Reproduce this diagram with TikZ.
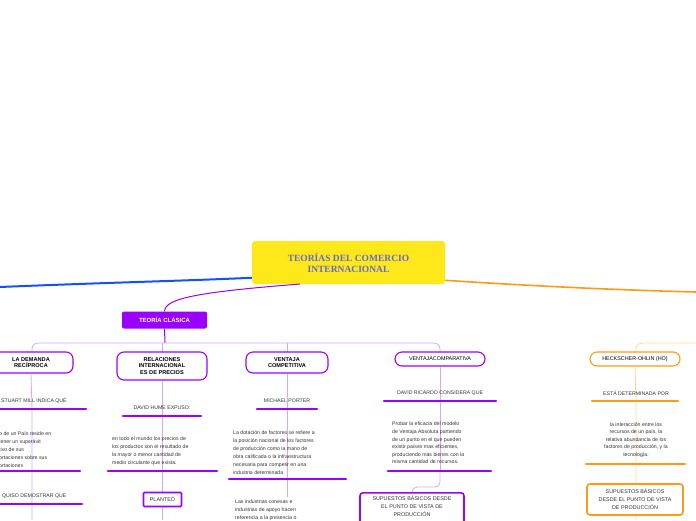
\documentclass[tikz,border=0pt]{standalone}
\usepackage{fontspec}
\setmainfont{Liberation Sans}
\newfontfamily\titlefont{Liberation Serif}
\begin{document}
\begin{tikzpicture}[x=1pt,y=-1pt,
  pu/.style={draw=purple!0!black, },
  ul/.style={line width=2.2pt,draw=vio,line cap=round},
  ulo/.style={line width=2.2pt,draw=org,line cap=round},
  thin/.style={draw=lvio,line width=0.8pt},
  thino/.style={draw=lorg,line width=0.8pt},
  lbl/.style={font=\fontsize{5.2}{6}\selectfont,text=black!80,inner sep=0},
  par/.style={font=\fontsize{5.2}{8}\selectfont,text=black!80,inner sep=0,align=left},
  box/.style={draw=vio,line width=1.1pt,rounded corners=7pt,fill=white,font=\fontsize{5.6}{6.6}\selectfont\bfseries,align=center,inner sep=0},
]
\definecolor{vio}{HTML}{9900FF}
\definecolor{lvio}{HTML}{D4A6FF}
\definecolor{org}{HTML}{FF9A14}
\definecolor{lorg}{HTML}{FFD699}
\definecolor{ttl}{HTML}{FFE81A}
\definecolor{blu}{HTML}{1450FF}
\useasboundingbox (0,0) rectangle (696,520);
\clip (0,0) rectangle (696,520);
% main branches
\coordinate (bl) at (0,287);
\coordinate (or) at (696,292);
\draw[blu,line width=2pt] (bl) .. controls (120,282) and (220,280) .. (285,276);
\draw[org,line width=1.6pt] (440,280) .. controls (550,287) and (620,290) .. (or);
\node[fill=ttl,rounded corners=3pt,minimum width=193pt,minimum height=43pt,inner sep=0] (title) at (348.5,262.5) {};
\node[font=\titlefont\bfseries\fontsize{9.5}{11}\selectfont,text=black!15,align=center] at (349.2,263.2) {TEORÍAS DEL COMERCIO\\INTERNACIONAL};
\node[font=\titlefont\bfseries\fontsize{9.5}{11}\selectfont,text=black!55,align=center] at (348.5,262.5) {TEORÍAS DEL COMERCIO\\INTERNACIONAL};
\node[fill=vio,rounded corners=2pt,minimum width=85pt,minimum height=17pt,inner sep=0,text=white,font=\fontsize{6}{7}\selectfont\bfseries] (tc) at (164.5,320) {TEORÍA CLÁSICA};
\draw[vio,line width=1pt] (300,284) .. controls (200,292) and (165,298) .. (tc.north);
\draw[vio,line width=1pt] (tc.south) -- (165,343);
% horizontal distribution
\draw[thin,rounded corners=6pt] (32,352) -- (32,343) -- (440,343) -- (440,352);
\draw[thin,rounded corners=6pt] (162,343) -- (162,352);
\draw[thin,rounded corners=6pt] (287,352) -- (287,343);
\draw[thino,rounded corners=6pt] (636,352) -- (636,343) -- (696,343);
% boxes
\node[box,minimum width=84pt,minimum height=21pt] (c1) at (31,362.5) {LA DEMANDA\\RECÍPROCA};
\node[box,minimum width=90pt,minimum height=28pt] (c2) at (162,366) {RELACIONES\\INTERNACIONAL\\ES DE PRECIOS};
\node[box,minimum width=82pt,minimum height=21pt] (c3) at (287,362.5) {VENTAJA\\COMPETITIVA};
\node[box,minimum width=90pt,minimum height=14pt,font=\fontsize{5.4}{6}\selectfont] (c4) at (440,359) {VENTAJACOMPARATIVA};
\node[box,draw=org,minimum width=90pt,minimum height=14pt,font=\fontsize{5.4}{6}\selectfont] (c5) at (635,359) {HECKSCHER-OHLIN (HO)};
% column 1
\coordinate (u1a) at (0,409); \coordinate (u1b) at (86,409);
\coordinate (u2a) at (0,471); \coordinate (u2b) at (80,471);
\coordinate (u3a) at (0,504); \coordinate (u3b) at (82,504);
\draw[thin] (c1.south) -- (32,409) (32,409) -- (32,471) (32,471) -- (32,504) (32,504)--(32,520);
\draw[ul] (u1a) -- (u1b); \draw[ul] (u2a) -- (u2b); \draw[ul] (u3a) -- (u3b);
\node[lbl,anchor=west] (t11) at (1,401) {STUART MILL INDICA QUÉ};
\node[par,anchor=north west] (t12) at (-1,431) {o de un País reside en\\tener un superávit\\tivo de sus\\ortaciones sobre sus\\ortaciones};
\node[lbl,anchor=west] (t13) at (2,496.5) {QUISO DEMOSTRAR QUE};
% column 2
\draw[thin] (c2.south) -- (162,416) (162,416) -- (162,471) (162,471) -- (162,492) (162,507) -- (162,520);
\node[lbl] (t21) at (162,408) {DAVID HUME EXPUSO:};
\draw[ul] (123,416) -- (201,416);
\node[par,anchor=north west] (t22) at (112,437) {en todo el mundo los precios de\\los productos son el resultado de\\la mayor o menor cantidad de\\medio circulante que exista.};
\draw[ul] (108,471) -- (217,471);
\node[draw=vio,line width=1.6pt,rounded corners=1pt,fill=white,minimum width=38pt,minimum height=14pt,inner sep=0,font=\fontsize{5.4}{6}\selectfont,text=black!80] (pl) at (162.5,499.5) {PLANTEÓ};
% column 3
\draw[thin] (c3.south) -- (287,409) (287,409) -- (287,479) (287,479) -- (287,497);
\node[lbl] (t31) at (287,401) {MICHAEL PORTER};
\draw[ul] (257,409) -- (317,409);
\node[par,anchor=north west] (t32) at (233,430) {La dotación de factores se refiere a\\la posición nacional de los factores\\de producción como la mano de\\obra calificada o la infraestructura\\necesaria para competir en una\\industria determinada};
\draw[ul] (229,479) -- (346,479);
\node[par,anchor=north west] (t33) at (235,500) {Las industrias conexas e\\industrias de apoyo hacen\\referencia a la presencia o};
% column 4
\draw[thin] (c4.south) -- (440,401) (440,401) -- (440,471);
\draw[thin,rounded corners=5pt] (440,471) -- (440,487) -- (412,487) -- (412,492);
\node[lbl] (t41) at (440,393) {DAVID RICARDO CONSIDERA QUE};
\draw[ul] (384,401) -- (496,401);
\node[par,anchor=north west,font=\fontsize{5.2}{7.6}\selectfont] (t42) at (392,422) {Probar la eficacia del modelo\\de Ventaja Absoluta partiendo\\de un punto en el que pueden\\existir países mas eficientes,\\produciendo más bienes con la\\misma cantidad de recursos.};
\draw[ul] (388,471) -- (491,471);
\node[draw=vio,line width=1.6pt,rounded corners=3pt,fill=white,minimum width=104pt,minimum height=40pt,inner sep=0,anchor=north,align=center,font=\fontsize{5.4}{8}\selectfont,text=black!80] (s4) at (412,492) {SUPUESTOS BÁSICOS DESDE\\EL PUNTO DE VISTA DE\\PRODUCCIÓN\\[6pt]};
% column 5
\draw[thino] (c5.south) -- (636,401) (636,401) -- (636,464) (636,464) -- (636,484) (636,515)--(636,520);
\node[lbl] (t51) at (636,393) {ESTÁ DETERMINADA POR};
\draw[ulo] (592,401) -- (678,401);
\node[par,align=center,anchor=north,font=\fontsize{5.2}{7.6}\selectfont] (t52) at (636,422) {la interacción entre los\\recursos de un país, la\\relativa abundancia de los\\factores de producción, y la\\tecnología.};
\draw[ulo] (586,464) -- (685,464);
\node[draw=org,line width=1.6pt,rounded corners=3pt,fill=white,minimum width=96pt,minimum height=31pt,inner sep=0,align=center,font=\fontsize{5.4}{8}\selectfont,text=black!80] (s5) at (635,499.5) {SUPUESTOS BÁSICOS\\DESDE EL PUNTO DE VISTA\\DE PRODUCCIÓN};
\end{tikzpicture}
\end{document}
